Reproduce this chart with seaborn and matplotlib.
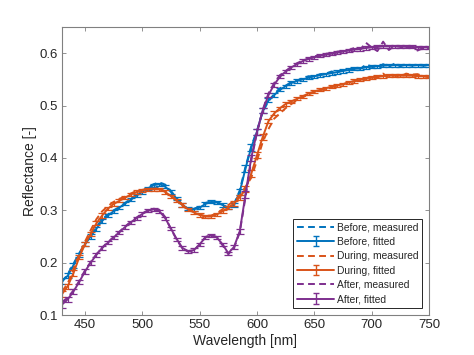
import numpy as np
import pandas as pd
import matplotlib
matplotlib.use("Agg")
import matplotlib.pyplot as plt
import seaborn as sns
from matplotlib.lines import Line2D

wavelength = list(range(430, 755, 5))

before_fit = [0.165, 0.175, 0.195, 0.215, 0.235, 0.250, 0.265, 0.280, 0.290, 0.298,
              0.305, 0.313, 0.320, 0.328, 0.335, 0.342, 0.348, 0.350, 0.345, 0.335,
              0.322, 0.310, 0.303, 0.302, 0.305, 0.312, 0.316, 0.315, 0.310, 0.305,
              0.310, 0.335, 0.380, 0.420, 0.450, 0.490, 0.510, 0.520, 0.530, 0.537,
              0.543, 0.547, 0.550, 0.553, 0.556, 0.558, 0.560, 0.562, 0.564, 0.566,
              0.568, 0.570, 0.571, 0.573, 0.574, 0.575, 0.576, 0.577, 0.577, 0.577,
              0.577, 0.577, 0.577, 0.577, 0.577]
before_meas = [0.163, 0.178, 0.198, 0.218, 0.236, 0.252, 0.268, 0.283, 0.292, 0.300,
               0.306, 0.314, 0.322, 0.330, 0.337, 0.344, 0.350, 0.353, 0.349, 0.337,
               0.323, 0.310, 0.302, 0.303, 0.307, 0.314, 0.317, 0.316, 0.311, 0.304,
               0.312, 0.338, 0.383, 0.422, 0.452, 0.488, 0.508, 0.522, 0.533, 0.538,
               0.545, 0.548, 0.552, 0.556, 0.555, 0.560, 0.561, 0.565, 0.563, 0.568,
               0.567, 0.572, 0.570, 0.578, 0.575, 0.572, 0.579, 0.574, 0.580, 0.575,
               0.579, 0.576, 0.578, 0.576, 0.577]
during_fit = [0.140, 0.155, 0.180, 0.210, 0.235, 0.255, 0.275, 0.290, 0.303, 0.312,
              0.318, 0.324, 0.330, 0.335, 0.338, 0.340, 0.340, 0.340, 0.335, 0.327,
              0.318, 0.310, 0.302, 0.296, 0.291, 0.288, 0.288, 0.292, 0.298, 0.305,
              0.313, 0.325, 0.340, 0.370, 0.405, 0.440, 0.470, 0.485, 0.495, 0.503,
              0.508, 0.513, 0.518, 0.523, 0.527, 0.530, 0.533, 0.536, 0.538, 0.541,
              0.544, 0.547, 0.549, 0.551, 0.553, 0.555, 0.556, 0.557, 0.557, 0.557,
              0.557, 0.557, 0.556, 0.556, 0.555]
during_meas = [0.145, 0.160, 0.188, 0.215, 0.240, 0.262, 0.283, 0.298, 0.308, 0.316,
               0.322, 0.326, 0.332, 0.337, 0.339, 0.341, 0.341, 0.342, 0.336, 0.328,
               0.320, 0.311, 0.303, 0.297, 0.292, 0.289, 0.290, 0.294, 0.302, 0.310,
               0.318, 0.328, 0.345, 0.362, 0.395, 0.430, 0.455, 0.475, 0.485, 0.495,
               0.503, 0.510, 0.516, 0.521, 0.526, 0.529, 0.532, 0.535, 0.539, 0.540,
               0.545, 0.546, 0.550, 0.552, 0.556, 0.553, 0.561, 0.553, 0.558, 0.555,
               0.561, 0.559, 0.560, 0.556, 0.554]
after_fit = [0.120, 0.130, 0.145, 0.163, 0.183, 0.200, 0.215, 0.228, 0.238, 0.248,
             0.258, 0.268, 0.277, 0.285, 0.293, 0.299, 0.302, 0.298, 0.285, 0.265,
             0.245, 0.228, 0.222, 0.224, 0.235, 0.248, 0.252, 0.248, 0.235, 0.218,
             0.230, 0.260, 0.330, 0.400, 0.450, 0.490, 0.520, 0.540, 0.555, 0.565,
             0.573, 0.579, 0.585, 0.589, 0.592, 0.595, 0.597, 0.599, 0.601, 0.603,
             0.605, 0.607, 0.608, 0.610, 0.611, 0.612, 0.613, 0.613, 0.613, 0.613,
             0.612, 0.612, 0.611, 0.611, 0.611]
after_meas = [0.125, 0.133, 0.147, 0.165, 0.185, 0.201, 0.216, 0.229, 0.239, 0.249,
              0.259, 0.269, 0.278, 0.286, 0.294, 0.300, 0.303, 0.301, 0.287, 0.264,
              0.244, 0.227, 0.221, 0.223, 0.234, 0.249, 0.253, 0.249, 0.233, 0.216,
              0.228, 0.258, 0.325, 0.395, 0.448, 0.492, 0.523, 0.543, 0.558, 0.566,
              0.574, 0.581, 0.586, 0.590, 0.594, 0.596, 0.599, 0.600, 0.603, 0.604,
              0.606, 0.610, 0.607, 0.620, 0.611, 0.604, 0.622, 0.606, 0.614, 0.612,
              0.609, 0.613, 0.605, 0.610, 0.609]
before_err = [0.006, 0.005, 0.005, 0.004, 0.004, 0.004, 0.004, 0.004, 0.003, 0.003,
              0.003, 0.003, 0.003, 0.003, 0.003, 0.003, 0.003, 0.003, 0.003, 0.003,
              0.003, 0.003, 0.003, 0.003, 0.003, 0.003, 0.003, 0.003, 0.003, 0.003,
              0.004, 0.005, 0.006, 0.006, 0.006, 0.005, 0.004, 0.004, 0.003, 0.003,
              0.003, 0.003, 0.003, 0.003, 0.003, 0.003, 0.003, 0.003, 0.003, 0.003,
              0.003, 0.003, 0.003, 0.003, 0.003, 0.003, 0.003, 0.003, 0.003, 0.003,
              0.003, 0.003, 0.003, 0.003, 0.003]
during_err = list(before_err)
after_err = list(before_err)

series = [
    ("Before", before_meas, before_fit, before_err, "#0072BD"),
    ("During", during_meas, during_fit, during_err, "#D95319"),
    ("After", after_meas, after_fit, after_err, "#7E2F8E"),
]

sns.set_theme(style="white")
plt.rcParams['font.family'] = ['Liberation Sans', 'DejaVu Sans']

fig = plt.figure(figsize=(4.74, 3.55), dpi=100)
ax = fig.add_axes([62/474, 1-315/355, (429-62)/474, (315-27)/355])

handles = []
labels = []
for name, meas, fit, err, col in series:
    df = pd.DataFrame({"wl": wavelength, "meas": meas, "fit": fit})
    sns.lineplot(data=df, x="wl", y="meas", ax=ax, color=col, lw=1.4,
                 linestyle=(0, (3.5, 2.2)), legend=False)
    sns.lineplot(data=df, x="wl", y="fit", ax=ax, color=col, lw=1.4, legend=False)
    ax.errorbar(wavelength, fit, yerr=err, fmt="none", ecolor=col, elinewidth=0.9,
                capsize=2.6, capthick=0.9)
    handles.append(Line2D([0], [0], color=col, lw=1.4, linestyle=(0, (3.5, 2.2))))
    labels.append(f"{name}, measured")
    eb = ax.errorbar([0], [0], yerr=[1], color=col, lw=1.4, elinewidth=1.0,
                     capsize=2.5, capthick=1.0)
    eb[0].set_data([], [])
    for c in eb[1]:
        c.set_data([], [])
    for lc in eb[2]:
        lc.set_segments([])
    handles.append(eb)
    labels.append(f"{name}, fitted")

ax.set_xlim(430, 750)
ax.set_ylim(0.1, 0.65)
ax.set_xticks([450, 500, 550, 600, 650, 700, 750])
ax.set_yticks([0.1, 0.2, 0.3, 0.4, 0.5, 0.6])
ax.set_xlabel("Wavelength [nm]", fontsize=10, color="#262626", labelpad=2)
ax.set_ylabel("Reflectance [-]", fontsize=10, color="#262626", labelpad=2)
ax.tick_params(direction="in", length=3, width=0.6, colors="#808080",
               labelcolor="#262626", labelsize=9.5, top=True, right=True,
               bottom=True, left=True, pad=3)
for s in ax.spines.values():
    s.set_color("#808080")
    s.set_linewidth(0.8)

leg = ax.legend(handles, labels, loc="lower right", fontsize=7.4, frameon=True,
                fancybox=False, edgecolor="#262626", framealpha=1,
                handlelength=3.6, handletextpad=0.25, labelspacing=0.42,
                borderpad=0.35, borderaxespad=0.7)
leg.get_frame().set_linewidth(0.7)

fig.savefig("out.png", dpi=100)
